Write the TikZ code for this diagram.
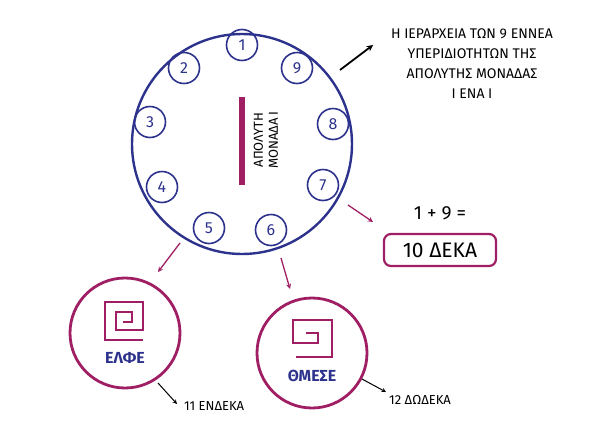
\documentclass[tikz,border=0pt]{standalone}
\usepackage{fontspec}
\setmainfont{Fira Sans}
\usetikzlibrary{positioning}
\definecolor{navy}{RGB}{45,50,140}
\definecolor{plum}{RGB}{160,30,100}
\tikzset{
  num/.style={circle,draw=navy,line width=1.6pt,minimum size=31pt,inner sep=0pt,font=\fontsize{16}{18}\selectfont,text=navy},
  big/.style={circle,draw=plum,line width=2.8pt,minimum size=110pt,inner sep=0pt},
  pink/.style={draw=plum,line width=1.3pt,->,>=stealth},
  dark/.style={draw=black,line width=1pt,->,>=stealth},
  label/.style={font=\fontsize{13}{14}\selectfont,align=center,inner sep=1pt}
}
\begin{document}
\begin{tikzpicture}[x=1pt,y=-1pt]
\useasboundingbox (0,0) rectangle (600,445);
%Main circle
\node [circle,draw=navy,line width=2.4pt,minimum size=220pt,inner sep=0pt] (main) at (242,144) {};
%Numbers
\node [num] (n1) at (242,45) {1};
\node [num] (n9) at (297,68) {9};
\node [num] (n8) at (333,124) {8};
\node [num] (n7) at (323,185) {7};
\node [num] (n6) at (271,230) {6};
\node [num] (n5) at (209,228) {5};
\node [num] (n4) at (162,187) {4};
\node [num] (n3) at (150,122) {3};
\node [num] (n2) at (184,68) {2};
%Bar and inner text
\draw [plum,line width=6pt] (242,97) -- (242,185);
\node [label,rotate=90,font=\fontsize{13}{15}\selectfont] (abs) at (266,140) {ΑΠΟΛΥΤΗ\\ΜΟΝΑΔΑ Ι};
%Title
\node [label,font=\fontsize{14}{20}\selectfont] (title) at (472,64) {Η ΙΕΡΑΡΧΕΙΑ ΤΩΝ 9 ΕΝΝΕΑ\\ ΥΠΕΡΙΔΙΟΤΗΤΩΝ ΤΗΣ\\ ΑΠΟΛΥΤΗΣ ΜΟΝΑΔΑΣ\\ Ι ΕΝΑ Ι};
\coordinate (t0) at (340,70);
\coordinate (t1) at (373,45);
\draw [dark,line width=1.8pt] (t0) -- (t1);
%Sum
\node [font=\fontsize{19}{20}\selectfont] (sum) at (440,213) {1 + 9 =};
\node [draw=plum,line width=2.2pt,rounded corners=7pt,minimum width=112pt,minimum height=32pt,font=\fontsize{21}{22}\selectfont] (ten) at (440,250) {10 ΔΕΚΑ};
\coordinate (s0) at (348,205);
\coordinate (s1) at (373,222);
\draw [pink] (s0) -- (s1);
%Lower circles
\node [big] (left) at (125,333) {};
\node [big] (right) at (312,353) {};
\coordinate (l0) at (180,243);
\coordinate (l1) at (158,272);
\coordinate (r0) at (281,258);
\coordinate (r1) at (290,289);
\draw [pink] (l0) -- (l1);
\draw [pink] (r0) -- (r1);
%Spirals
\draw [plum,line width=2.8pt] (143,340) -- (105,340) -- (105,302) -- (143,302) -- (143,330) -- (116,330) -- (116,312) -- (132,312) -- (132,322) -- (123,322);
\draw [plum,line width=2.8pt] (296,357) -- (332,357) -- (332,320) -- (293,320) -- (293,343) -- (318,343) -- (318,333) -- (306,333);
\node [font=\fontsize{16}{18}\selectfont\bfseries,text=navy] (lw) at (125,358) {ΕΛΦΕ};
\node [font=\fontsize{16}{18}\selectfont\bfseries,text=navy] (rw) at (312,376) {ΘΜΕΣΕ};
%Counts
\coordinate (e0) at (158,383);
\coordinate (e1) at (177,404);
\coordinate (w0) at (362,379);
\coordinate (w1) at (386,392);
\node [label,anchor=west] (eleven) at (183,406) {11 ΕΝΔΕΚΑ};
\node [label,anchor=west] (twelve) at (388,400) {12 ΔΩΔΕΚΑ};
\draw [dark] (e0) -- (e1);
\draw [dark] (w0) -- (w1);
\end{tikzpicture}
\end{document}
